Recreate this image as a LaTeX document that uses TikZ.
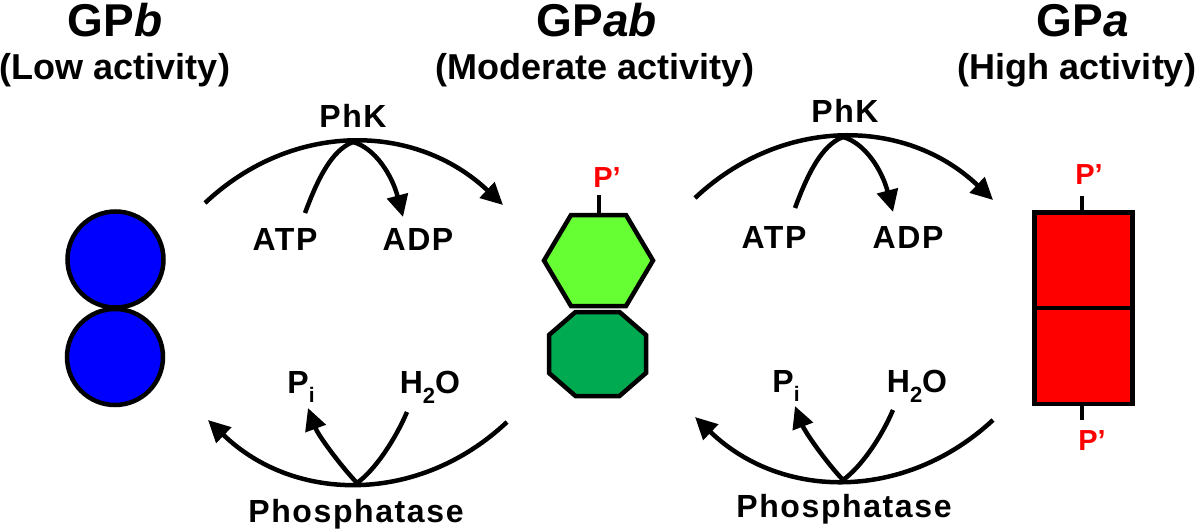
\documentclass[tikz,border=0pt]{standalone}
\usepackage{fontspec}
\setmainfont{Liberation Sans}
\newfontfamily\labfont[LetterSpace=5]{Liberation Sans}
\usetikzlibrary{arrows.meta}
\definecolor{gpblue}{RGB}{0,0,255}
\definecolor{hexgreen}{RGB}{102,255,51}
\definecolor{octgreen}{RGB}{0,170,80}
\definecolor{gpred}{RGB}{255,0,0}
\begin{document}
\begin{tikzpicture}[x=1pt,y=-1pt,line join=miter,
  shp/.style={draw=black,line width=4.5pt},
  conn/.style={line width=4.5pt},
  head/.style={-{Triangle[length=22pt,width=21pt]}},
  title/.style={anchor=base,inner sep=0,font=\fontsize{46}{46}\selectfont\bfseries},
  sub/.style={anchor=base,inner sep=0,font=\fontsize{36}{36}\selectfont\bfseries},
  lab/.style={anchor=base,inner sep=0,font=\labfont\fontsize{32}{32}\selectfont\bfseries},
  pl/.style={anchor=base,inner sep=0,text=gpred,font=\fontsize{29}{29}\selectfont\bfseries}]
\useasboundingbox (0,0) rectangle (1200,532);

% titles
\node[title] (tb) at (115,37) {GP\textit{b}};
\node[sub] (sb) at (115,80) {(Low activity)};
\node[title] (tab) at (597,37) {GP\textit{ab}};
\node[sub] (sab) at (595,80) {(Moderate activity)};
\node[title] (ta) at (1083,37) {GP\textit{a}};
\node[sub] (sa) at (1077,80) {(High activity)};

% GPb
\node[circle,shp,fill=gpblue,minimum size=96pt,inner sep=0] (b1) at (115.5,259.5) {};
\node[circle,shp,fill=gpblue,minimum size=96pt,inner sep=0] (b2) at (115,357) {};

% GPab
\draw[shp,fill=octgreen] (575.5,312) -- (619.5,312) -- (646,335) -- (646,373) -- (619.5,396) -- (575.5,396) -- (549,373) -- (549,335) -- cycle;
\draw[shp,fill=hexgreen] (571,215) -- (626,215) -- (653,260.5) -- (626,306) -- (571,306) -- (544,260.5) -- cycle;
\coordinate (hextop) at (599,215);
\coordinate (hexstick) at (599,195);
\draw[conn] (hextop) -- (hexstick);
\node[pl] (p1) at (607,187) {P’};

% GPa
\node[shp,fill=gpred,minimum width=98pt,minimum height=191.5pt,inner sep=0] (ra) at (1083.5,308) {};
\draw[shp] (ra.west) -- (ra.east);
\coordinate (rtop) at (1082,196);
\coordinate (rbot) at (1082,420);
\draw[conn] (ra.north -| rtop) -- (rtop);
\draw[conn] (ra.south -| rbot) -- (rbot);
\node[pl] (p2) at (1089,185) {P’};
\node[pl] (p3) at (1092,450) {P’};

% top left reaction
\coordinate (t1s) at (205,203);
\coordinate (t1p) at (353,142);
\coordinate (t1e) at (503,205);
\coordinate (t1a) at (305,213);
\coordinate (t1d) at (403,217);
\draw[conn,head] (t1s) .. controls (292,121) and (415,122) .. (t1e);
\draw[conn] (t1a) .. controls (318,178) and (332,150) .. (t1p);
\draw[conn,head] (t1p) .. controls (375,148) and (392,175) .. (t1d);
\node[lab] (phk1) at (353,128) {PhK};
\node[lab] (atp1) at (285,250) {ATP};
\node[lab] (adp1) at (418,250) {ADP};

% top right reaction
\coordinate (t2s) at (695,198);
\coordinate (t2p) at (843,137);
\coordinate (t2e) at (993,200);
\coordinate (t2a) at (795,208);
\coordinate (t2d) at (893,212);
\draw[conn,head] (t2s) .. controls (782,116) and (906,117) .. (t2e);
\draw[conn] (t2a) .. controls (808,173) and (822,145) .. (t2p);
\draw[conn,head] (t2p) .. controls (865,143) and (882,170) .. (t2d);
\node[lab] (phk2) at (845,123) {PhK};
\node[lab] (atp2) at (774,248) {ATP};
\node[lab] (adp2) at (908,248) {ADP};

% bottom left reaction
\coordinate (u1s) at (507,422);
\coordinate (u1p) at (357,483);
\coordinate (u1e) at (208,420);
\coordinate (u1i) at (308,408);
\coordinate (u1w) at (407,412);
\draw[conn,head] (u1s) .. controls (420,504) and (295,504) .. (u1e);
\draw[conn,head] (u1p) .. controls (340,465) and (318,435) .. (u1i);
\draw[conn] (u1w) .. controls (395,440) and (375,470) .. (u1p);
\node[lab] (pi1) at (301,393) {P\raisebox{-9pt}{\fontsize{21}{21}\selectfont i}};
\node[lab] (h2o1) at (430,393) {H\raisebox{-10pt}{\fontsize{22}{22}\selectfont 2}O};
\node[lab] (ph1) at (356,522) {Phosphatase};

% bottom right reaction
\coordinate (u2s) at (993,420);
\coordinate (u2p) at (843,480);
\coordinate (u2e) at (695,417);
\coordinate (u2i) at (795,406);
\coordinate (u2w) at (893,410);
\draw[conn,head] (u2s) .. controls (906,501) and (782,501) .. (u2e);
\draw[conn,head] (u2p) .. controls (826,462) and (805,432) .. (u2i);
\draw[conn] (u2w) .. controls (881,438) and (861,467) .. (u2p);
\node[lab] (pi2) at (786,392) {P\raisebox{-9pt}{\fontsize{21}{21}\selectfont i}};
\node[lab] (h2o2) at (917,392) {H\raisebox{-10pt}{\fontsize{22}{22}\selectfont 2}O};
\node[lab] (ph2) at (844,517) {Phosphatase};
\end{tikzpicture}
\end{document}
